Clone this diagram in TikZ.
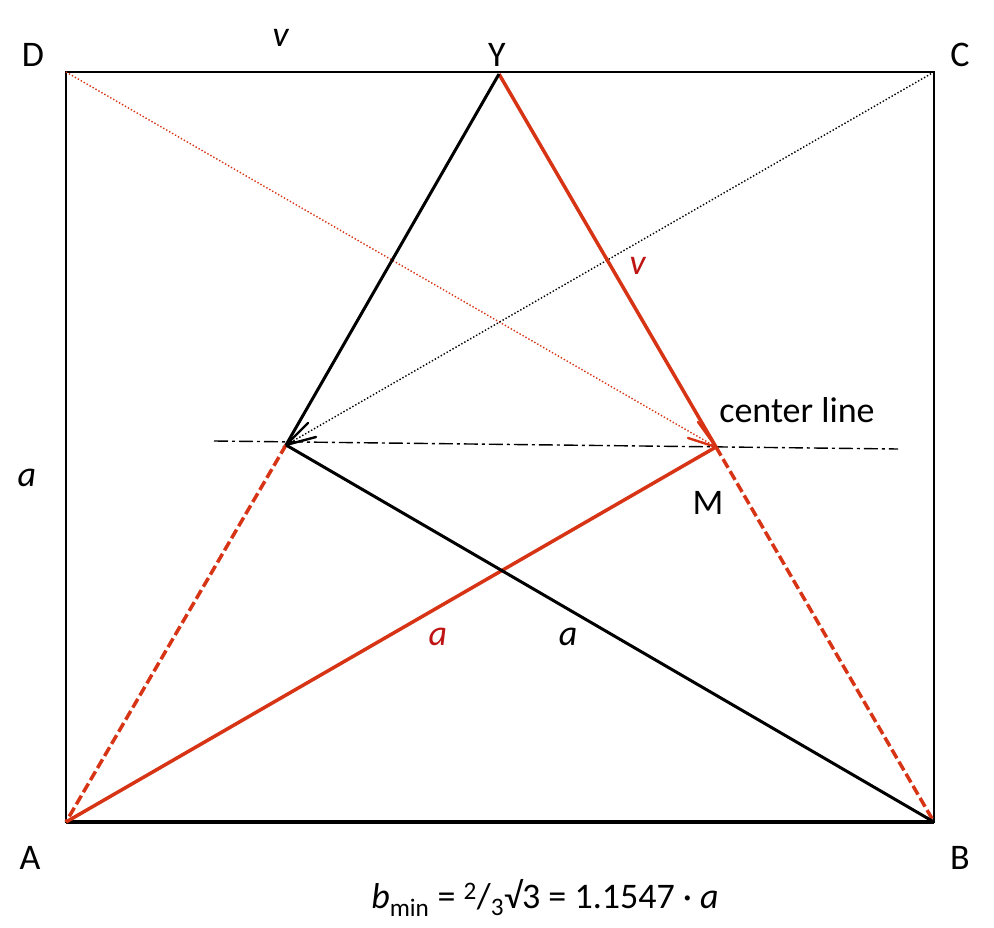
\documentclass[tikz,border=0pt]{standalone}
\usepackage{fontspec}
\setmainfont{Carlito}
\definecolor{rd}{RGB}{214,52,20}
\definecolor{rdt}{RGB}{190,20,20}
\begin{document}
\begin{tikzpicture}[x=1pt,y=-1pt,
  lab/.style={font=\fontsize{36}{40}\selectfont,inner sep=0pt},
  blk/.style={black,line width=3pt},
  red/.style={rd,line width=3.5pt}]
\useasboundingbox (0,0) rectangle (994,928);
\coordinate (A) at (66,822); \coordinate (B) at (934,822);
\coordinate (C) at (934,72); \coordinate (D) at (66,72);
\coordinate (Y) at (499,74); \coordinate (L) at (286,445); \coordinate (M) at (716,447);
\coordinate (c1) at (214,441); \coordinate (c2) at (898,449);
\coordinate (m1) at (688,438); \coordinate (m2) at (698,422);
\coordinate (l1) at (316,437); \coordinate (l2) at (308,423);
\draw[line width=1.6pt] (A) -- (B) -- (C) -- (D) -- cycle;
\draw[line width=3.2pt] (A) -- (B);
\draw[rd,dotted,line width=1.4pt] (D) -- (M);
\draw[black,dotted,line width=1.4pt] (C) -- (L);
\draw[rd,line width=2.4pt,line cap=round] (m1) -- (M) -- (m2);
\draw[line width=2.4pt,line cap=round] (l1) -- (L) -- (l2);
\draw[line width=1.4pt,dash pattern=on 14pt off 4pt on 3pt off 4pt] (c1) -- (c2);
\draw[red,dash pattern=on 10pt off 4pt] (L) -- (A);
\draw[red,dash pattern=on 10pt off 4pt] (M) -- (B);
\draw[red] (A) -- (M);
\draw[red] (Y) -- (M);
\draw[blk] (Y) -- (L);
\draw[blk] (L) -- (B);
\node[lab] (tD) at (33,55) {D};
\node[lab] (tC) at (960,55) {C};
\node[lab] (tY) at (497,55) {Y};
\node[lab] (tA) at (30,858) {A};
\node[lab] (tB) at (960,858) {B};
\node[lab] (tM) at (708,503) {M};
\node[lab] (tv) at (281,38) {\textit{v}};
\node[lab,text=rdt] (tv2) at (638,266) {\textit{v}};
\node[lab] (tcl) at (797,410) {center line};
\node[lab] (ta) at (27,478) {\textit{a}};
\node[lab,text=rdt] (ta2) at (438,637) {\textit{a}};
\node[lab] (ta3) at (568,637) {\textit{a}};
\node[lab] (tf) at (545,898) {\textit{b}\textsubscript{min} = \textsuperscript{2}/\textsubscript{3}√3 = 1.1547 · \textit{a}};
\end{tikzpicture}
\end{document}
